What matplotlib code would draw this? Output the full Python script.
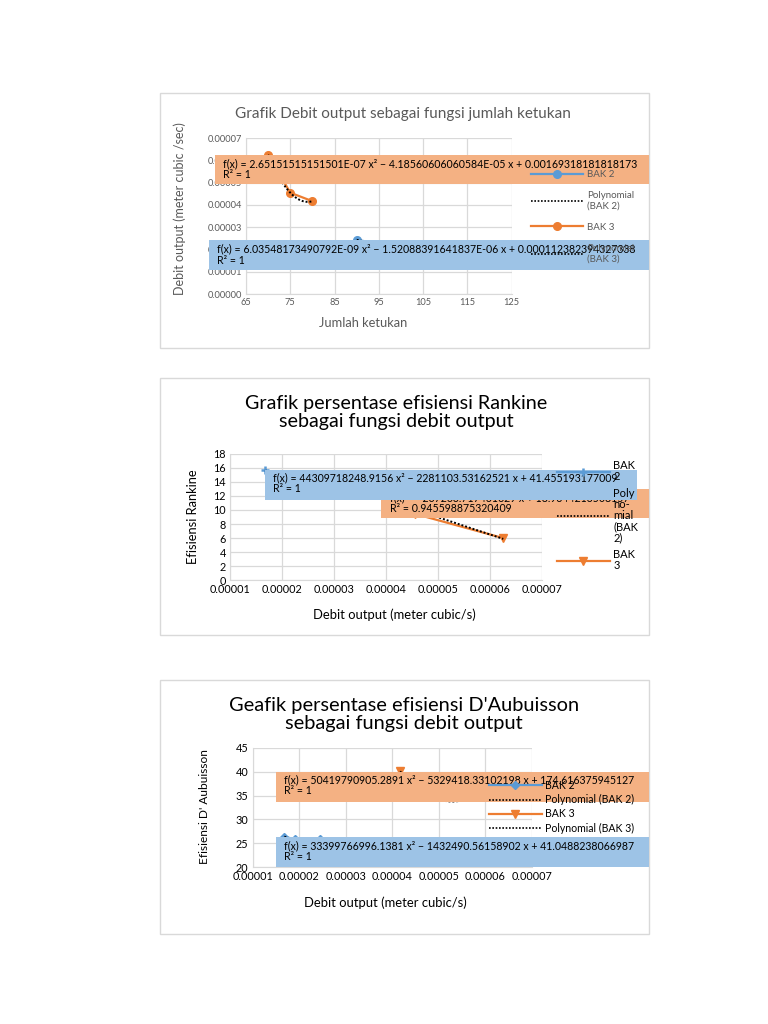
import numpy as np
import matplotlib
matplotlib.use("Agg")
import matplotlib.pyplot as plt
from matplotlib.patches import Rectangle
from matplotlib.ticker import FormatStrFormatter, MultipleLocator

plt.rcParams['font.family'] = ['Lato', 'DejaVu Sans']

# ---------------- data ----------------
taps_bak2 = [90, 105, 120]
taps_bak3 = [70, 75, 80]
debit_bak2 = [0.0000244, 0.0000192, 0.0000168]
debit_bak3 = [0.0000625, 0.0000455, 0.0000417]
rankine_bak2 = [12.18, 13.99, 15.64]
rankine_bak3 = [6.0, 9.45, 11.5]
aubuisson_bak2 = [25.98, 25.82, 26.41]
aubuisson_bak3 = [38.4, 36.5, 40.05]
taps_ticks = [65, 75, 85, 95, 105, 115, 125]

eq1_bak3 = ["f(x) = 2.65151515151501E-07 x\u00b2 \u2212 4.18560606060584E-05 x + 0.00169318181818173", "R\u00b2 = 1"]
eq1_bak2 = ["f(x) = 6.03548173490792E-09 x\u00b2 \u2212 1.52088391641837E-06 x + 0.000112382394327338", "R\u00b2 = 1"]
eq2_bak2 = ["f(x) = 44309718248.9156 x\u00b2 \u2212 2281103.53162521 x + 41.455193177009", "R\u00b2 = 1"]
eq2_bak3 = ["f(x) = \u2212207263.717431629 x + 18.9344213508157", "R\u00b2 = 0.945598875320409"]
eq3_bak3 = ["f(x) = 50419790905.2891 x\u00b2 \u2212 5329418.33102198 x + 174.616375945127", "R\u00b2 = 1"]
eq3_bak2 = ["f(x) = 33399766996.1381 x\u00b2 \u2212 1432490.56158902 x + 41.0488238066987", "R\u00b2 = 1"]

BLUE = '#5b9bd5'
ORANGE = '#ed7d31'
BOX_O = '#f4b183'
BOX_B = '#9dc3e6'
GRID = '#d9d9d9'
GRAYTXT = '#595959'

W, H = 768, 1024
fig = plt.figure(figsize=(W / 100, H / 100), dpi=100)


def rect(x0, y0, x1, y1):
    return [x0 / W, 1 - y1 / H, (x1 - x0) / W, (y1 - y0) / H]


def fx(x):
    return x / W


def fy(y):
    return 1 - y / H


def panel(x0, y0, x1, y1):
    fig.add_artist(Rectangle((fx(x0), fy(y1)), (x1 - x0) / W, (y1 - y0) / H,
                             transform=fig.transFigure, facecolor='none',
                             edgecolor=GRID, lw=1, zorder=1))


def eqbox(x0, y0, x1, y1, color, lines, tx, ty1, ty2, fs, z):
    fig.add_artist(Rectangle((fx(x0), fy(y1)), (x1 - x0) / W, (y1 - y0) / H,
                             transform=fig.transFigure, facecolor=color,
                             edgecolor='none', zorder=z))
    fig.text(fx(tx), fy(ty1), lines[0], fontsize=fs, va='center', ha='left', zorder=z + 0.5, color='black')
    fig.text(fx(tx), fy(ty2), lines[1], fontsize=fs, va='center', ha='left', zorder=z + 0.5, color='black')


def style(ax, tickcolor, fs):
    for s in ['top', 'right']:
        ax.spines[s].set_visible(False)
    for s in ['left', 'bottom']:
        ax.spines[s].set_color(GRID)
    ax.grid(True, color=GRID, lw=0.9)
    ax.set_axisbelow(True)
    ax.tick_params(length=0, labelsize=fs, colors=tickcolor, pad=3)


def trend(ax, x, y, deg):
    c = np.polyfit(x, y, deg)
    xs = np.linspace(min(x), max(x), 100)
    ax.plot(xs, np.polyval(c, xs), color='black', ls=(0, (1, 1)), lw=1.4, zorder=4)


# ================= Chart 1 =================
panel(160, 93, 649, 348)
ax1 = fig.add_axes(rect(246, 138, 511.7, 294.3))
style(ax1, GRAYTXT, 6.7)
l1a, = ax1.plot(taps_bak2, debit_bak2, color=BLUE, lw=1.6, marker='o', ms=5.5, zorder=3)
trend(ax1, taps_bak2, debit_bak2, 2)
l1b, = ax1.plot(taps_bak3, debit_bak3, color=ORANGE, lw=1.6, marker='o', ms=5.5, zorder=3)
trend(ax1, taps_bak3, debit_bak3, 2)
ax1.set_xlim(65, 125)
ax1.set_ylim(0, 0.00007)
ax1.set_xticks(taps_ticks)
ax1.yaxis.set_major_locator(MultipleLocator(0.00001))
ax1.yaxis.set_major_formatter(FormatStrFormatter('%.5f'))
fig.text(fx(403), fy(114), 'Grafik Debit output sebagai fungsi jumlah ketukan', fontsize=11,
         color=GRAYTXT, ha='center', va='center')
fig.text(fx(180), fy(209), 'Debit output (meter cubic /sec)', fontsize=9, color=GRAYTXT,
         rotation=90, ha='center', va='center')
fig.text(fx(363), fy(323), 'Jumlah ketukan', fontsize=9.3, color=GRAYTXT, ha='center', va='center')
eqbox(215, 155, 649, 184, BOX_O, eq1_bak3, 223, 164, 175, 7.6, 2)
eqbox(209, 240, 649, 270, BOX_B, eq1_bak2, 217, 249, 260, 7.6, 2)
p = plt.Line2D([], [], color='black', ls=(0, (1, 1)), lw=1.2)
leg1 = fig.legend([l1a, p, l1b, p], ['BAK 2', 'Polynomial\n(BAK 2)', 'BAK 3', 'Polynomial\n(BAK 3)'],
                  loc='upper left', bbox_to_anchor=(fx(531), fy(170)), frameon=False,
                  fontsize=7, handlelength=5.3, labelspacing=1.25, handletextpad=0.45,
                  borderaxespad=0, borderpad=0)
leg1.set_zorder(10)
for t in leg1.get_texts():
    t.set_color(GRAYTXT)

# ================= Chart 2 =================
panel(160, 378, 649, 635)
ax2 = fig.add_axes(rect(230, 453.7, 542.3, 580.3))
style(ax2, 'black', 7.8)
l2a, = ax2.plot(debit_bak2, rankine_bak2, color=BLUE, lw=1.6, marker='+', ms=6, mew=1.8, zorder=3)
trend(ax2, debit_bak2, rankine_bak2, 2)
l2b, = ax2.plot(debit_bak3, rankine_bak3, color=ORANGE, lw=1.6, marker='v', ms=6, zorder=3)
trend(ax2, debit_bak3, rankine_bak3, 1)
ax2.set_xlim(0.00001, 0.00007)
ax2.set_ylim(0, 18)
ax2.xaxis.set_major_locator(MultipleLocator(0.00001))
ax2.yaxis.set_major_locator(MultipleLocator(2))
ax2.xaxis.set_major_formatter(FormatStrFormatter('%.5f'))
fig.text(fx(396), fy(403), 'Grafik persentase efisiensi Rankine', fontsize=14.2, ha='center', va='center')
fig.text(fx(396), fy(422), 'sebagai fungsi debit output', fontsize=14.2, ha='center', va='center')
fig.text(fx(193), fy(517), 'Efisiensi Rankine', fontsize=9.3, rotation=90, ha='center', va='center')
fig.text(fx(394), fy(615), 'Debit output (meter cubic/s)', fontsize=9.4, ha='center', va='center')
eqbox(381, 489, 649, 518, BOX_O, eq2_bak3, 390, 498, 508, 7.6, 2)
eqbox(265, 470, 637, 500, BOX_B, eq2_bak2, 273, 478, 489, 7.6, 4)
leg2 = fig.legend([l2a, p, l2b], ['BAK\n2', 'Poly\nno-\nmial\n(BAK\n2)', 'BAK\n3'],
                  loc='upper left', bbox_to_anchor=(fx(557), fy(460)), frameon=False,
                  fontsize=8, handlelength=4.75, labelspacing=0.5, handletextpad=0.3,
                  borderaxespad=0, borderpad=0)
leg2.set_zorder(10)
for t in leg2.get_texts():
    t.set_linespacing(1.02)

# ================= Chart 3 =================
panel(160, 680, 649, 934)
ax3 = fig.add_axes(rect(252.7, 747.7, 531.7, 867.3))
style(ax3, 'black', 7.8)
l3a, = ax3.plot(debit_bak2, aubuisson_bak2, color=BLUE, lw=1.6, marker='D', ms=4, zorder=3)
trend(ax3, debit_bak2, aubuisson_bak2, 2)
l3b, = ax3.plot(debit_bak3, aubuisson_bak3, color=ORANGE, lw=1.6, marker='v', ms=6, zorder=3)
trend(ax3, debit_bak3, aubuisson_bak3, 2)
ax3.set_xlim(0.00001, 0.00007)
ax3.set_ylim(20, 45)
ax3.xaxis.set_major_locator(MultipleLocator(0.00001))
ax3.yaxis.set_major_locator(MultipleLocator(5))
ax3.xaxis.set_major_formatter(FormatStrFormatter('%.5f'))
fig.text(fx(404), fy(705), "Geafik persentase efisiensi D'Aubuisson", fontsize=14.4, ha='center', va='center')
fig.text(fx(404), fy(724), 'sebagai fungsi debit output', fontsize=14.4, ha='center', va='center')
fig.text(fx(205), fy(807), "Efisiensi D' Aubuisson", fontsize=8.6, rotation=90, ha='center', va='center')
fig.text(fx(385), fy(903), 'Debit output (meter cubic/s)', fontsize=9.4, ha='center', va='center')
eqbox(276, 772, 649, 802, BOX_O, eq3_bak3, 284, 780, 791, 7.6, 2)
eqbox(276, 837, 649, 867, BOX_B, eq3_bak2, 284, 846, 857, 7.6, 2)
leg3 = fig.legend([l3a, p, l3b, p], ['BAK 2', 'Polynomial (BAK 2)', 'BAK 3', 'Polynomial (BAK 3)'],
                  loc='upper left', bbox_to_anchor=(fx(489), fy(780)), frameon=False,
                  fontsize=7.6, handlelength=5.0, labelspacing=0.3, handletextpad=0.35,
                  borderaxespad=0, borderpad=0)
leg3.set_zorder(10)

fig.savefig('out.png', dpi=100)
